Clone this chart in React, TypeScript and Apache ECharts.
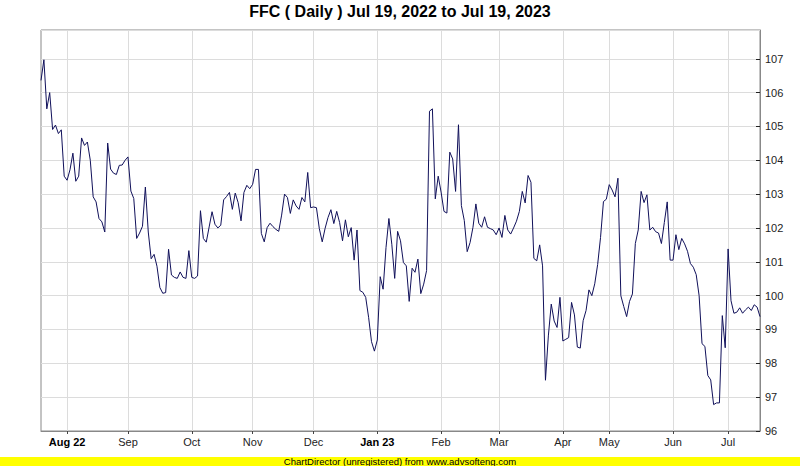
import { useEffect, useRef } from 'react';
import * as echarts from 'echarts';

// Daily closes, Jul 19 2022 -> Jul 19 2023 (one value per trading day)
const closes: number[] = [
  106.36, 106.97, 105.52, 106.0, 104.91, 105.04, 104.79, 104.9, 103.53, 103.41,
  103.72, 104.21, 103.38, 103.53, 104.66, 104.44, 104.54, 104.0, 102.92, 102.77,
  102.28, 102.18, 101.88, 104.51, 103.74, 103.62, 103.58, 103.85, 103.86, 104.0,
  104.1, 103.09, 102.87, 101.69, 101.85, 102.05, 103.21, 101.88, 101.09, 101.22,
  100.87, 100.24, 100.07, 100.09, 101.37, 100.61, 100.54, 100.51, 100.7, 100.54,
  100.51, 101.33, 100.54, 100.51, 100.58, 102.51, 101.69, 101.58, 102.03, 102.48,
  102.11, 102.0, 102.08, 102.83, 102.93, 103.05, 102.55, 103.03, 102.75, 102.21,
  103.05, 103.26, 103.16, 103.29, 103.73, 103.73, 101.84, 101.59, 102.01, 102.14,
  102.04, 101.96, 101.9, 102.38, 103.0, 102.9, 102.43, 102.83, 102.65, 102.55,
  102.9, 102.77, 103.64, 102.6, 102.62, 102.6, 101.98, 101.59, 101.99, 102.31,
  102.54, 102.13, 102.49, 102.16, 101.62, 102.24, 101.74, 102.01, 101.05, 101.94,
  100.15, 100.1, 99.95, 99.36, 98.64, 98.36, 98.69, 100.56, 100.19, 101.42,
  102.28, 101.52, 100.51, 101.9, 101.62, 100.98, 100.88, 99.83, 100.81, 100.69,
  101.08, 100.06, 100.34, 100.74, 105.45, 105.52, 102.86, 103.53, 103.06, 102.49,
  102.44, 104.24, 104.04, 103.08, 105.05, 102.66, 102.22, 101.3, 101.57, 102.02,
  102.71, 102.14, 102.02, 102.33, 102.02, 101.98, 101.94, 101.8, 102.0, 101.72,
  102.37, 101.94, 101.82, 102.0, 102.2, 102.49, 103.08, 102.74, 103.55, 103.35,
  101.1, 101.03, 101.5, 100.88, 97.5, 98.81, 99.75, 99.25, 99.06, 99.95,
  98.66, 98.71, 98.76, 99.8, 99.43, 98.48, 98.45, 99.26, 99.56, 100.17,
  100.0, 100.35, 100.92, 101.72, 102.78, 102.85, 103.28, 103.12, 102.92, 103.47,
  100.0, 99.68, 99.38, 99.83, 100.05, 101.54, 101.94, 103.08, 102.75, 102.98,
  101.94, 102.02, 101.89, 101.85, 101.54, 102.16, 102.77, 101.05, 101.05, 101.8,
  101.36, 101.69, 101.53, 101.31, 100.95, 100.84, 100.62, 100.0, 98.58, 98.5,
  97.64, 97.51, 96.78, 96.83, 96.83, 99.41, 98.46, 101.38, 99.85, 99.48,
  99.51, 99.64, 99.48, 99.58, 99.66, 99.56, 99.73, 99.66, 99.38,
];

// first trading day of each month (index into closes) and its label
const monthIdx = [9, 30, 52, 73, 94, 116, 138, 158, 180, 196, 218, 237];
const monthLabels = ['Aug 22', 'Sep', 'Oct', 'Nov', 'Dec', 'Jan 23', 'Feb', 'Mar', 'Apr', 'May', 'Jun', 'Jul'];
const boldLabels = ['Aug 22', 'Jan 23'];

const FONT = "'Liberation Sans', Arial, sans-serif";

const App = () => {
  const chartRef = useRef<HTMLDivElement>(null);

  useEffect(() => {
    if (!chartRef.current) return;
    const chart = echarts.init(chartRef.current, null, { renderer: 'svg' });

    const days = closes.map((_, i) => String(i));
    const isMonth = (index: number) => monthIdx.includes(index);

    const options: echarts.EChartsOption = {
      animation: false,
      backgroundColor: '#ffffff',
      title: {
        text: 'FFC ( Daily ) Jul 19, 2022 to Jul 19, 2023',
        left: 'center',
        top: -2,
        textStyle: { fontFamily: FONT, fontSize: 16, fontWeight: 'bold', color: '#000' },
      },
      grid: {
        left: 41,
        top: 30,
        width: 719,
        height: 401,
        show: true,
        borderColor: '#888888',
        borderWidth: 1,
        backgroundColor: 'transparent',
      },
      xAxis: {
        type: 'category',
        data: days,
        boundaryGap: false,
        axisLine: { lineStyle: { color: '#888888' } },
        axisTick: { interval: isMonth, length: 3, lineStyle: { color: '#444' } },
        splitLine: { show: true, interval: isMonth, lineStyle: { color: '#dcdcdc' } },
        axisLabel: {
          interval: isMonth,
          margin: 5,
          fontFamily: FONT,
          fontSize: 11,
          color: '#222',
          formatter: (_v: string, index: number) => {
            const k = monthIdx.indexOf(index);
            if (k < 0) return '';
            const lab = monthLabels[k];
            return boldLabels.includes(lab) ? `{b|${lab}}` : lab;
          },
          rich: { b: { fontFamily: FONT, fontSize: 11, fontWeight: 'bold', color: '#000' } },
        },
      },
      yAxis: {
        type: 'value',
        position: 'right',
        min: 96,
        max: 107.85,
        interval: 1,
        axisLine: { show: true, lineStyle: { color: '#888888' } },
        axisTick: { show: true, inside: true, length: 4, lineStyle: { color: '#222' } },
        splitLine: { lineStyle: { color: '#dcdcdc' } },
        axisLabel: {
          showMaxLabel: false,
          margin: 5,
          fontFamily: FONT,
          fontSize: 11,
          color: '#222',
          formatter: (v: number) => (Number.isInteger(v) ? String(v) : ''),
        },
      },
      series: [
        {
          type: 'line',
          data: closes,
          showSymbol: false,
          lineStyle: { color: '#10105a', width: 1 },
          itemStyle: { color: '#10105a' },
        },
      ],
      graphic: [
        {
          type: 'rect',
          left: 0,
          top: 457,
          shape: { width: 800, height: 9 },
          style: { fill: '#ffff00' },
        },
        {
          type: 'text',
          left: 'center',
          top: 456.5,
          style: {
            text: 'ChartDirector (unregistered) from www.advsofteng.com',
            fontFamily: FONT,
            fontSize: 9.5,
            fill: '#000',
          },
        },
      ],
    };

    chart.setOption(options);
    return () => {
      chart.dispose();
    };
  }, []);

  return (
    <div
      ref={chartRef}
      style={{ position: 'absolute', left: 0, top: 0, width: 800, height: 466, background: '#fff' }}
    />
  );
};

export default App;
